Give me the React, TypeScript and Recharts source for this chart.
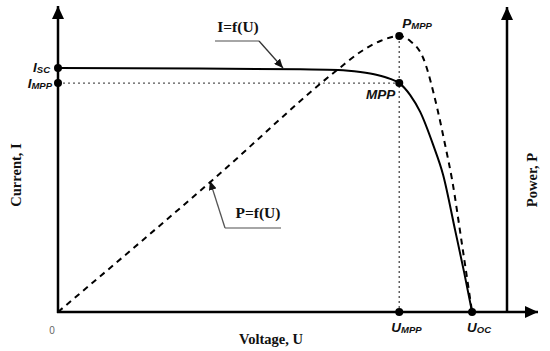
import React from 'react';
import {
  LineChart,
  Line,
  XAxis,
  YAxis,
  ReferenceLine,
  ReferenceDot,
  Customized
} from 'recharts';

// I-V curve (voltage in V, current in A)
const voltageI = [0, 14.2, 24.3, 28.1, 30.3, 32.0, 33.3, 34.2, 35.3, 36.3, 37.6, 38.6, 39.8, 40.7, 41.5];
const currentI = [8.13, 8.12, 8.09, 8.07, 8.0, 7.9, 7.77, 7.63, 7.23, 6.67, 5.57, 4.57, 2.73, 1.33, 0];

// P-V curve (voltage in V, power in W)
const voltageP = [0, 15.5, 28.1, 30.3, 32.3, 34.2, 35.3, 36.6, 38.0, 38.8, 39.5, 40.5, 41.5];
const powerP = [0, 132, 243, 260, 271, 276, 271, 254, 204, 167, 132, 67, 0];

// characteristic points
const Isc = 8.13;
const Impp = 7.63;
const Umpp = 34.2;
const Uoc = 41.5;
const Pmpp = 276;

const W = 550;
const H = 351;
const M = { top: 12, right: 43, bottom: 39, left: 58 };
const X_MAX = 45;
const I_MAX = 10;
const P_MAX = 300;

const ivData = voltageI.map((u, i) => ({ u, i: currentI[i] }));
const pvData = voltageP.map((u, i) => ({ u, p: powerP[i] }));

// same mapping the chart uses, for the decorations only
const plotW = W - M.left - M.right;
const plotH = H - M.top - M.bottom;
const sx = (v: number) => M.left + (v / X_MAX) * plotW;
const syI = (v: number) => M.top + plotH - (v / I_MAX) * plotH;
const syP = (v: number) => M.top + plotH - (v / P_MAX) * plotH;

const serif = '"Liberation Serif", "Times New Roman", serif';
const sans = '"Liberation Sans", Arial, sans-serif';

const Sub = ({ x, y, main, sub, anchor = 'start' }: any) => (
  <text x={x} y={y} textAnchor={anchor} fontFamily={sans} fontWeight="bold" fontStyle="italic" fill="#111">
    <tspan fontSize={13.5}>{main}</tspan>
    <tspan fontSize={9.5} dy={1}>{sub}</tspan>
  </text>
);

const Overlay = () => {
  const x0 = sx(0);
  const y0 = syI(0);
  const xr = sx(X_MAX);
  return (
    <g>
      <defs>
        <marker id="axArrow" markerUnits="userSpaceOnUse" markerWidth={14} markerHeight={12} refX={13} refY={6} orient="auto">
          <path d="M0,0 L13,6 L0,12 z" fill="#000" />
        </marker>
        <marker id="smArrow" markerUnits="userSpaceOnUse" markerWidth={10} markerHeight={8} refX={9} refY={4} orient="auto">
          <path d="M0,0 L9,4 L0,8 z" fill="#111" />
        </marker>
      </defs>

      {/* axes */}
      <line x1={x0} y1={y0 + 1} x2={x0} y2={6} stroke="#000" strokeWidth={2.5} markerEnd="url(#axArrow)" />
      <line x1={x0 - 1} y1={y0} x2={xr + 31} y2={y0} stroke="#000" strokeWidth={2.5} markerEnd="url(#axArrow)" />
      <line x1={xr} y1={y0 + 1} x2={xr} y2={7} stroke="#000" strokeWidth={2.5} markerEnd="url(#axArrow)" />

      {/* axis titles */}
      <text x={271} y={344} textAnchor="middle" fontFamily={serif} fontWeight="bold" fontSize={14.5} fill="#111">Voltage, U</text>
      <text x={21} y={175} transform="rotate(-90 21 175)" textAnchor="middle" fontFamily={serif} fontWeight="bold" fontSize={14.5} fill="#111">Current, I</text>
      <text x={537} y={180} transform="rotate(-90 537 180)" textAnchor="middle" fontFamily={serif} fontWeight="bold" fontSize={14.5} fill="#111">Power, P</text>
      <text x={x0 - 6} y={y0 + 22} textAnchor="middle" fontFamily={sans} fontSize={10} fill="#666">0</text>

      {/* point labels */}
      <Sub x={x0 - 8} y={syI(Isc) + 4} main="I" sub="SC" anchor="end" />
      <Sub x={x0 - 6} y={syI(Impp) + 5} main="I" sub="MPP" anchor="end" />
      <Sub x={sx(Umpp) + 3} y={syP(Pmpp) - 8} main="P" sub="MPP" />
      <text x={sx(Umpp) - 4} y={syI(Impp) + 16} textAnchor="end" fontFamily={sans} fontWeight="bold" fontStyle="italic" fontSize={13.5} fill="#111">MPP</text>
      <Sub x={sx(Umpp) - 8} y={y0 + 20} main="U" sub="MPP" />
      <Sub x={sx(Uoc) - 5} y={y0 + 20} main="U" sub="OC" />

      {/* curve callouts */}
      <text x={238} y={32} textAnchor="middle" fontFamily={serif} fontWeight="bold" fontSize={15.5} fill="#111">I=f(U)</text>
      <polyline points="215,41 259,41" fill="none" stroke="#888" strokeWidth={1.3} />
      <line x1={259} y1={41} x2={283} y2={68} stroke="#333" strokeWidth={1.3} markerEnd="url(#smArrow)" />

      <text x={258} y={218} textAnchor="middle" fontFamily={serif} fontWeight="bold" fontSize={15.5} fill="#111">P=f(U)</text>
      <polyline points="225,228 281,228" fill="none" stroke="#888" strokeWidth={1.3} />
      <line x1={225} y1={228} x2={210} y2={181} stroke="#555" strokeWidth={1.3} markerEnd="url(#smArrow)" />
    </g>
  );
};

export default function App() {
  return (
    <div style={{ position: 'absolute', left: 0, top: 0, width: W, height: H, background: '#fff' }}>
      <LineChart width={W} height={H} margin={M}>
        <XAxis type="number" dataKey="u" domain={[0, X_MAX]} hide allowDataOverflow />
        <YAxis yAxisId="i" type="number" domain={[0, I_MAX]} hide allowDataOverflow />
        <YAxis yAxisId="p" orientation="right" type="number" domain={[0, P_MAX]} hide allowDataOverflow />

        <ReferenceLine
          yAxisId="i"
          segment={[{ x: 0, y: Impp }, { x: Umpp, y: Impp }]}
          stroke="#555"
          strokeWidth={1.4}
          strokeDasharray="2 3"
        />
        <ReferenceLine
          yAxisId="p"
          segment={[{ x: Umpp, y: Pmpp }, { x: Umpp, y: 0 }]}
          stroke="#555"
          strokeWidth={1.4}
          strokeDasharray="2 3"
        />

        <Line
          yAxisId="p"
          data={pvData}
          dataKey="p"
          type="monotone"
          stroke="#000"
          strokeWidth={2}
          strokeDasharray="6 5"
          dot={false}
          isAnimationActive={false}
        />
        <Line
          yAxisId="i"
          data={ivData}
          dataKey="i"
          type="monotone"
          stroke="#000"
          strokeWidth={2}
          dot={false}
          isAnimationActive={false}
        />

        <Customized component={<Overlay />} />

        <ReferenceDot yAxisId="i" x={0} y={Isc} r={4} fill="#000" stroke="none" />
        <ReferenceDot yAxisId="i" x={0} y={Impp} r={4} fill="#000" stroke="none" />
        <ReferenceDot yAxisId="i" x={Umpp} y={Impp} r={4} fill="#000" stroke="none" />
        <ReferenceDot yAxisId="p" x={Umpp} y={Pmpp} r={4} fill="#000" stroke="none" />
        <ReferenceDot yAxisId="i" x={Umpp} y={0} r={4} fill="#000" stroke="none" />
        <ReferenceDot yAxisId="i" x={Uoc} y={0} r={4} fill="#000" stroke="none" />
      </LineChart>
    </div>
  );
}
